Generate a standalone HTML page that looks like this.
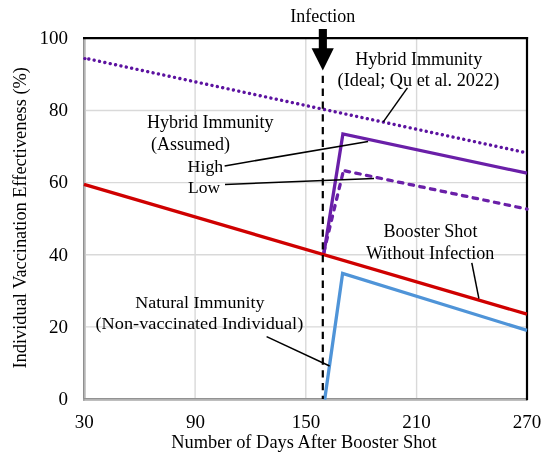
<!DOCTYPE html>
<html>
<head>
<meta charset="utf-8">
<style>
html,body{margin:0;padding:0;background:#fff;}
svg{display:block;}
text{font-family:"Liberation Serif","Times New Roman",serif;fill:#000;}
</style>
</head>
<body>
<svg width="550" height="457" viewBox="0 0 550 457">
<rect x="0" y="0" width="550" height="457" fill="#fff"/>
<!-- gridlines -->
<g stroke="#d9d9d9" stroke-width="1.4" fill="none">
<line x1="195.1" y1="39" x2="195.1" y2="398"/>
<line x1="305.8" y1="39" x2="305.8" y2="398"/>
<line x1="416.6" y1="39" x2="416.6" y2="398"/>
<line x1="85" y1="110.5" x2="526" y2="110.5"/>
<line x1="85" y1="182.6" x2="526" y2="182.6"/>
<line x1="85" y1="254.7" x2="526" y2="254.7"/>
<line x1="85" y1="326.9" x2="526" y2="326.9"/>
</g>
<!-- axes left/bottom -->
<g fill="none">
<line x1="85.3" y1="37.5" x2="85.3" y2="398" stroke="#cacaca" stroke-width="1.4"/>
<line x1="83.8" y1="37.5" x2="83.8" y2="400.8" stroke="#8a8a8a" stroke-width="1.5"/>
<line x1="83" y1="399.9" x2="527" y2="399.9" stroke="#a8a8a8" stroke-width="1.5"/>
<line x1="83" y1="398.6" x2="527" y2="398.6" stroke="#929292" stroke-width="1.3"/>
</g>
<!-- border top/right -->
<g stroke="#000" stroke-width="2.2" fill="none">
<line x1="83" y1="38.2" x2="528.1" y2="38.2"/>
<line x1="527" y1="37.1" x2="527" y2="400.2"/>
</g>

<!-- series -->
<g fill="none" stroke-linejoin="miter">
<line x1="84" y1="58.0" x2="527" y2="152.9" stroke="#5c12a0" stroke-width="3.4" stroke-dasharray="0.01 5.468" stroke-dashoffset="0.58" stroke-linecap="round"/>
<circle cx="84.9" cy="58.6" r="1.7" fill="#5c12a0"/>
<polyline points="323.9,253.5 342.9,134.0 527,173.2" stroke="#6a1fa8" stroke-width="3.3"/>
<line x1="323.5" y1="253.5" x2="343.5" y2="170.5" stroke="#6a1fa8" stroke-width="3.3" stroke-dasharray="4.5 6.4" stroke-dashoffset="-1.27" stroke-linecap="round"/>
<line x1="343.5" y1="170.5" x2="527" y2="209.1" stroke="#6a1fa8" stroke-width="3.3" stroke-dasharray="4.5 6.4" stroke-dashoffset="-1.65" stroke-linecap="round"/>
<line x1="84" y1="184.4" x2="527" y2="314.2" stroke="#cf0000" stroke-width="3.3"/>
<polyline points="324.7,399.5 342.6,273.4 527,330.4" stroke="#4f94d8" stroke-width="3.3"/>
</g>

<!-- infection dashed line + arrow -->
<line x1="322.8" y1="75.8" x2="322.8" y2="399" stroke="#000" stroke-width="2.2" stroke-dasharray="7.3 5.5"/>
<polygon points="318.8,29 326.9,29 326.9,48.2 333.8,48.2 322.8,70.5 311.6,48.2 318.8,48.2" fill="#000"/>

<!-- leader lines -->
<g stroke="#000" stroke-width="1.5" fill="none">
<line x1="407.4" y1="87.9" x2="383.3" y2="121.9"/>
<line x1="224.6" y1="165.9" x2="368.1" y2="141.4"/>
<line x1="225" y1="184.4" x2="374" y2="178.6"/>
<line x1="471.8" y1="262.9" x2="478.9" y2="298.6"/>
<line x1="266.6" y1="336.6" x2="329.6" y2="366"/>
</g>

<!-- labels -->
<g font-size="18">
<text transform="translate(290.2,22.2)">Infection</text>
<text transform="translate(355.3,64.6) scale(1.004,1)">Hybrid Immunity</text>
<text transform="translate(337.6,86.2) scale(1.015,1)">(Ideal; Qu et al. 2022)</text>
<text transform="translate(146.9,127.8)">Hybrid Immunity</text>
<text transform="translate(150.9,149.5)">(Assumed)</text>
<text transform="translate(187.6,171.6) scale(1.02,1)" font-size="17.5">High</text>
<text transform="translate(188.0,193.4)" font-size="17.5">Low</text>
<text transform="translate(383.5,236.9) scale(1.005,1)">Booster Shot</text>
<text transform="translate(366.0,258.8) scale(1.006,1)">Without Infection</text>
<text transform="translate(135.2,307.5) scale(1.04,1)" font-size="17.3">Natural Immunity</text>
<text transform="translate(95.5,328.7) scale(1.058,1)" font-size="17.3">(Non-vaccinated Individual)</text>
</g>

<!-- tick labels -->
<g font-size="19" text-anchor="end">
<text x="68" y="43.9">100</text>
<text x="68" y="116.1">80</text>
<text x="68" y="188.3">60</text>
<text x="68" y="260.5">40</text>
<text x="68" y="332.7">20</text>
<text x="68" y="404.9">0</text>
</g>
<g font-size="19" text-anchor="middle">
<text x="84.3" y="427.5">30</text>
<text x="195.5" y="427.5">90</text>
<text x="305.9" y="427.5">150</text>
<text x="416.4" y="427.5">210</text>
<text x="527" y="427.5">270</text>
</g>

<!-- axis titles -->
<text transform="translate(171.2,447.6) scale(1.035,1)" font-size="17.8">Number of Days After Booster Shot</text>
<text transform="translate(25.6,368.5) rotate(-90) scale(1.009,1)" font-size="18.2">Individual Vaccination Effectiveness (%)</text>
</svg>
</body>
</html>
